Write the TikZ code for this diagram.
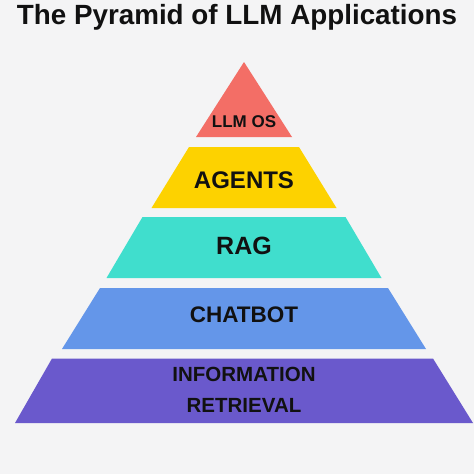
\documentclass[tikz,border=0pt]{standalone}
\usepackage{fontspec}
\setmainfont{Liberation Sans}
\usetikzlibrary{positioning}
\definecolor{pageBg}{HTML}{F4F4F5}
\definecolor{tierOS}{HTML}{F36E66}
\definecolor{tierAgent}{HTML}{FDD200}
\definecolor{tierRag}{HTML}{40DECD}
\definecolor{tierChat}{HTML}{6496E9}
\definecolor{tierInfo}{HTML}{6A59CC}
\definecolor{inkDark}{HTML}{111111}

\begin{document}
\begin{tikzpicture}[x=1pt,y=-1pt,
 tier/.style={inkDark,font=\bfseries,align=center,inner sep=0pt},
 title/.style={inkDark,font=\fontsize{27.8}{30}\selectfont\bfseries,inner sep=0pt}]
\fill[pageBg] (0,0) rectangle (474,474);
% pyramid tiers, top to bottom
\fill[tierOS] (244,62) -- (292,137) -- (196,137) -- cycle;
\fill[tierAgent] (189,147) -- (299,147) -- (336.5,208) -- (151.5,208) -- cycle;
\fill[tierRag] (142.5,217) -- (345.5,217) -- (381.5,278) -- (106.5,278) -- cycle;
\fill[tierChat] (100,288) -- (388,288) -- (426,349) -- (62,349) -- cycle;
\fill[tierInfo] (52,358.5) -- (433,358.5) -- (473,423) -- (15,423) -- cycle;
% labels
\node[title] (head) at (237,17) {The Pyramid of LLM Applications};
\node[tier,font=\fontsize{17}{20}\selectfont\bfseries] (os) at (244,121.5) {LLM OS};
\node[tier,font=\fontsize{24}{28}\selectfont\bfseries] (agents) at (244,180.5) {AGENTS};
\node[tier,font=\fontsize{25}{28}\selectfont\bfseries] (rag) at (244,246) {RAG};
\node[tier,font=\fontsize{22.5}{26}\selectfont\bfseries] (chat) at (244,315) {CHATBOT};
\node[tier,font=\fontsize{20.5}{31}\selectfont\bfseries] (info) at (244,390) {INFORMATION\\RETRIEVAL};
\end{tikzpicture}
\end{document}
